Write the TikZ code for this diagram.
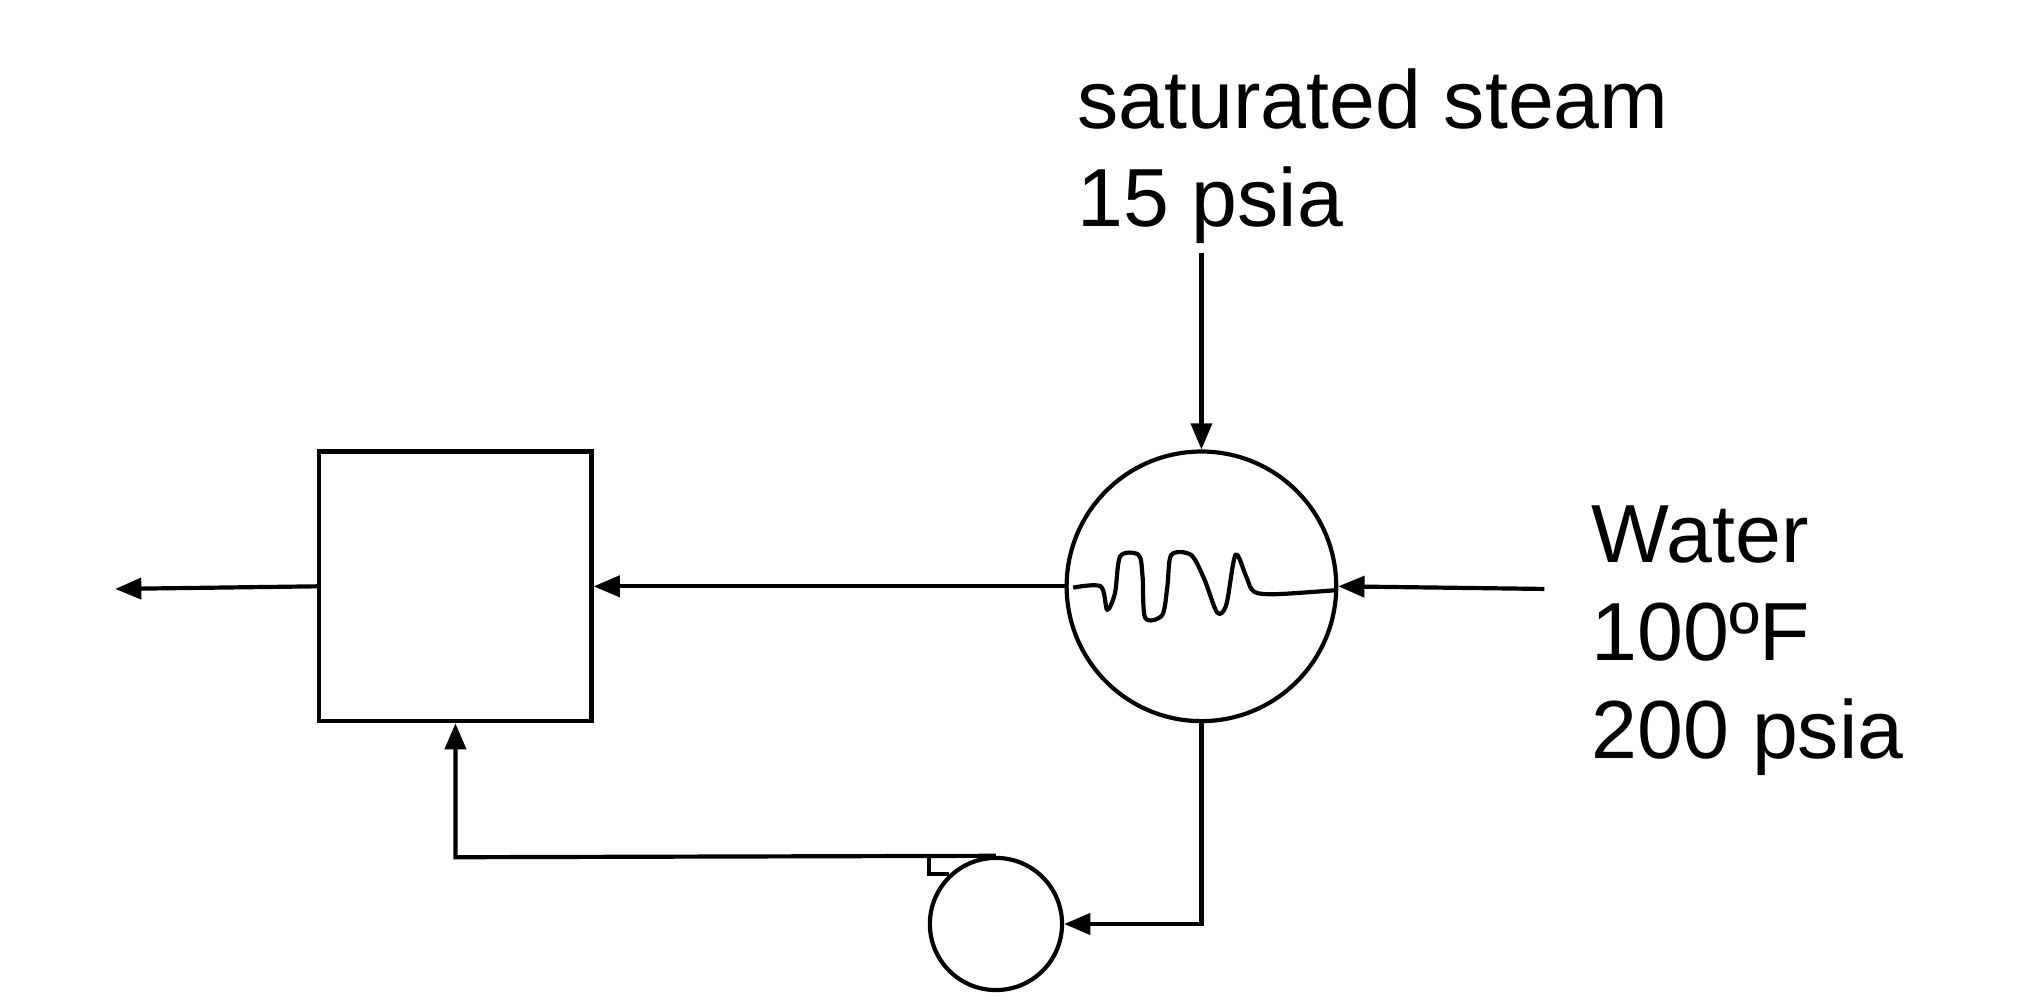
\documentclass[tikz,border=0pt]{standalone}
\usepackage{fontspec}
\setmainfont{Liberation Sans}
\usetikzlibrary{arrows.meta}
\begin{document}
\begin{tikzpicture}[x=1pt,y=-1pt,
  ln/.style={line width=3.2pt,black},
  flow/.style={ln,-{Triangle[length=20pt,width=16pt]}},
  lbl/.style={font=\fontsize{63}{75}\selectfont,align=left,inner sep=0pt}]
\useasboundingbox (0,0) rectangle (1545,764);
\node[ln,draw,minimum width=208pt,minimum height=206pt,inner sep=0pt] (box) at (348,448) {};
\node[ln,draw,circle,minimum size=206pt,inner sep=0pt] (hx) at (918,448) {};
\node[ln,draw,circle,minimum size=101pt,inner sep=0pt] (pump) at (761,706) {};
\node[lbl,anchor=north west] (steam) at (823,52) {saturated steam\\15 psia};
\node[lbl,anchor=north west] (water) at (1216,386) {Water\\100ºF\\200 psia};
\coordinate (s0) at (918,193);
\coordinate (w0) at (1180,450);
\coordinate (out) at (88,450);
\draw[flow] (s0) -- (hx.north);
\draw[flow] (w0) -- (hx.east);
\draw[flow] (hx.west) -- (box.east);
\draw[flow] (box.west) -- (out);
\draw[flow] (hx.south) |- (pump.east);
\draw[flow] (pump.north) -- (348,655) -- (box.south);
\draw[ln] (710,655) -- (710,668) -- (725,668);
\draw[ln,line join=round] plot[smooth,tension=0.5] coordinates {(820,449)(841,448)(846,466)(852,453)(856,425)(870,424)(873,440)(875,472)(888,470)(892,448)(895,424)(910,424)(920,442)(930,468)(937,462)(944,424)(952,440)(958,452)(975,454)(1020,451)};
\end{tikzpicture}
\end{document}
